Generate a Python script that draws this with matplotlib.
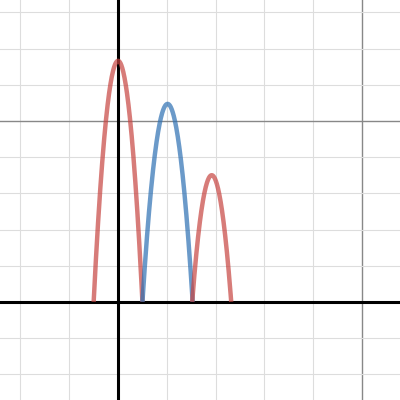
import matplotlib.pyplot as plt
import numpy as np

# arches: (left root, right root, peak height, colour)
left_roots = [-0.5, 0.5, 1.52]
right_roots = [0.5, 1.53, 2.32]
peaks = [6.66, 5.47, 3.5]
colors = ['#c74440', '#2d70b3', '#c74440']

fig = plt.figure(figsize=(4, 4), dpi=100)
ax = fig.add_axes([0, 0, 1, 1])
ax.set_xlim(-2.42, 5.78)
ax.set_ylim(-2.71, 8.34)
ax.axis('off')

# grid
for gx in range(-2, 6):
    major = gx % 5 == 0
    ax.axvline(gx, color='#888888' if major else '#dddddd', lw=1.0 if major else 0.8, zorder=0)
for gy in range(-2, 9):
    major = gy % 5 == 0
    ax.axhline(gy, color='#888888' if major else '#dddddd', lw=1.0 if major else 0.8, zorder=0)
ax.axvline(0, color='black', lw=2.2, zorder=1)
ax.axhline(0, color='black', lw=2.2, zorder=1)

for a, b, h, c in zip(left_roots, right_roots, peaks, colors):
    xs = np.linspace(a, b, 200)
    mid, half = (a + b) / 2, (b - a) / 2
    ys = h * (1 - ((xs - mid) / half) ** 2)
    ax.plot(xs, ys, color=c, lw=3.2, alpha=0.7, solid_capstyle='butt', zorder=2)

fig.savefig('out.png', dpi=100)
